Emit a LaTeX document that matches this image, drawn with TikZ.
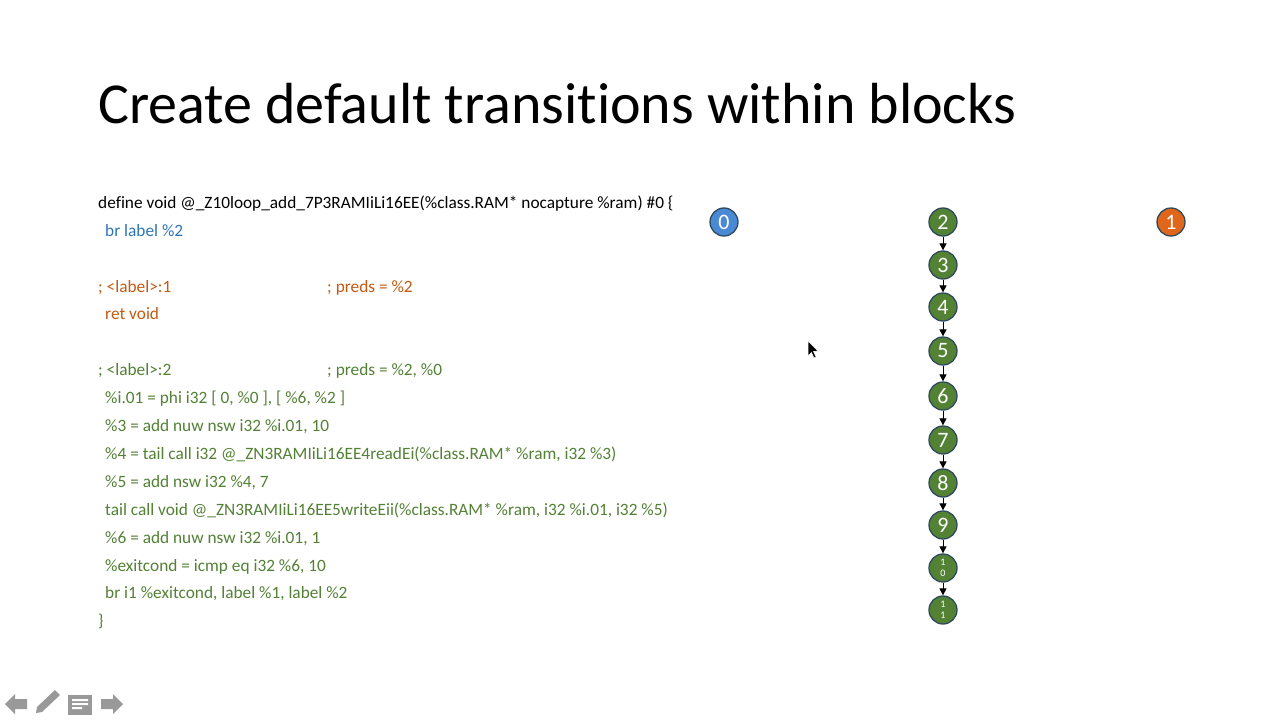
\documentclass[tikz,border=0pt]{standalone}
\usepackage{fontspec}
\setmainfont{Carlito}[Ligatures=NoCommon]
\usetikzlibrary{arrows.meta}
\definecolor{cblue}{HTML}{2E75B6}
\definecolor{corange}{HTML}{C55A11}
\definecolor{cgreen}{HTML}{538135}
\definecolor{ngreen}{HTML}{548235}
\definecolor{nblue}{HTML}{4A8AD4}
\definecolor{norange}{HTML}{E0661C}
\definecolor{nborder}{HTML}{2F4A5F}
\begin{document}
\begin{tikzpicture}[x=1pt,y=-1pt,
  code/.style={anchor=base west,inner sep=0pt,font=\fontsize{17.3}{18}\selectfont},
  st/.style={circle,draw=nborder,line width=1.3pt,fill=ngreen,minimum size=28pt,inner sep=0pt,text=white,font=\fontsize{22}{22}\selectfont},
  ar/.style={-{Triangle[length=7pt,width=7pt]},line width=1pt}]
\useasboundingbox (0,0) rectangle (1280,720);
\fill[white] (0,0) rectangle (1280,720);
\node[anchor=base west,inner sep=0pt,font=\fontsize{58}{60}\selectfont] (title) at (98,123) {Create default transitions within blocks};
\node[code] (l1) at (98,208) {define void @\_Z10loop\_add\_7P3RAMIiLi16EE(\%class.RAM* nocapture \%ram) \#0 \{};
\node[code,text=cblue] (l2) at (105,236) {br label \%2};
\node[code,text=corange] (l3) at (98,292) {; <label>:1};
\node[code,text=corange] (l3b) at (327,292) {; preds = \%2};
\node[code,text=corange] (l4) at (105,319) {ret void};
\node[code,text=cgreen] (l5) at (98,375) {; <label>:2};
\node[code,text=cgreen] (l5b) at (327,375) {; preds = \%2, \%0};
\node[code,text=cgreen] (l6) at (105,403) {\%i.01 = phi i32 [ 0, \%0 ], [ \%6, \%2 ]};
\node[code,text=cgreen] (l7) at (105,431) {\%3 = add nuw nsw i32 \%i.01, 10};
\node[code,text=cgreen] (l8) at (105,459) {\%4 = tail call i32 @\_ZN3RAMIiLi16EE4readEi(\%class.RAM* \%ram, i32 \%3)};
\node[code,text=cgreen] (l9) at (105,487) {\%5 = add nsw i32 \%4, 7};
\node[code,text=cgreen] (l10) at (105,515) {tail call void @\_ZN3RAMIiLi16EE5writeEii(\%class.RAM* \%ram, i32 \%i.01, i32 \%5)};
\node[code,text=cgreen] (l11) at (105,543) {\%6 = add nuw nsw i32 \%i.01, 1};
\node[code,text=cgreen] (l12) at (105,571) {\%exitcond = icmp eq i32 \%6, 10};
\node[code,text=cgreen] (l13) at (105,598) {br i1 \%exitcond, label \%1, label \%2};
\node[code,text=cgreen] (l14) at (98,626) {\}};

\node[st,fill=nblue] (n0) at (724,222) {0};
\node[st,fill=norange] (n1) at (1171,222) {1};
\node[st] (n2) at (943,222) {2};
\node[st] (n3) at (943,265) {3};
\node[st] (n4) at (943,307) {4};
\node[st] (n5) at (943,351) {5};
\node[st] (n6) at (943,396) {6};
\node[st] (n7) at (943,440) {7};
\node[st] (n8) at (943,483) {8};
\node[st] (n9) at (943,525) {9};
\node[st,font=\fontsize{10}{11}\selectfont,align=center] (n10) at (943,568) {1\\0};
\node[st,font=\fontsize{10}{11}\selectfont,align=center] (n11) at (943,610) {1\\1};
\foreach \a/\b in {n2/n3,n3/n4,n4/n5,n5/n6,n6/n7,n7/n8,n8/n9,n9/n10,n10/n11}
  \draw[ar] (\a) -- (\b);

% cursor
\fill[black,draw=white,line width=0.5pt] (808,341) -- (808,356) -- (811.5,352.5) -- (814,358) -- (816,357) -- (813.5,351.5) -- (818,351) -- cycle;

% navigation icons
\begin{scope}[gray!80]
\fill (5,704) -- (15,694) -- (15,699) -- (27,699) -- (27,709) -- (15,709) -- (15,714) -- cycle;
\fill (123,704) -- (113,694) -- (113,699) -- (101,699) -- (101,709) -- (113,709) -- (113,714) -- cycle;
\fill (36,713) -- (37,707) -- (55,690) -- (60,695) -- (42,712) -- cycle;
\fill (68,695) rectangle (92,715);
\fill[white] (72,699) rectangle (88,701) (72,703) rectangle (88,705) (72,707) rectangle (82,709);
\end{scope}
\end{tikzpicture}
\end{document}
